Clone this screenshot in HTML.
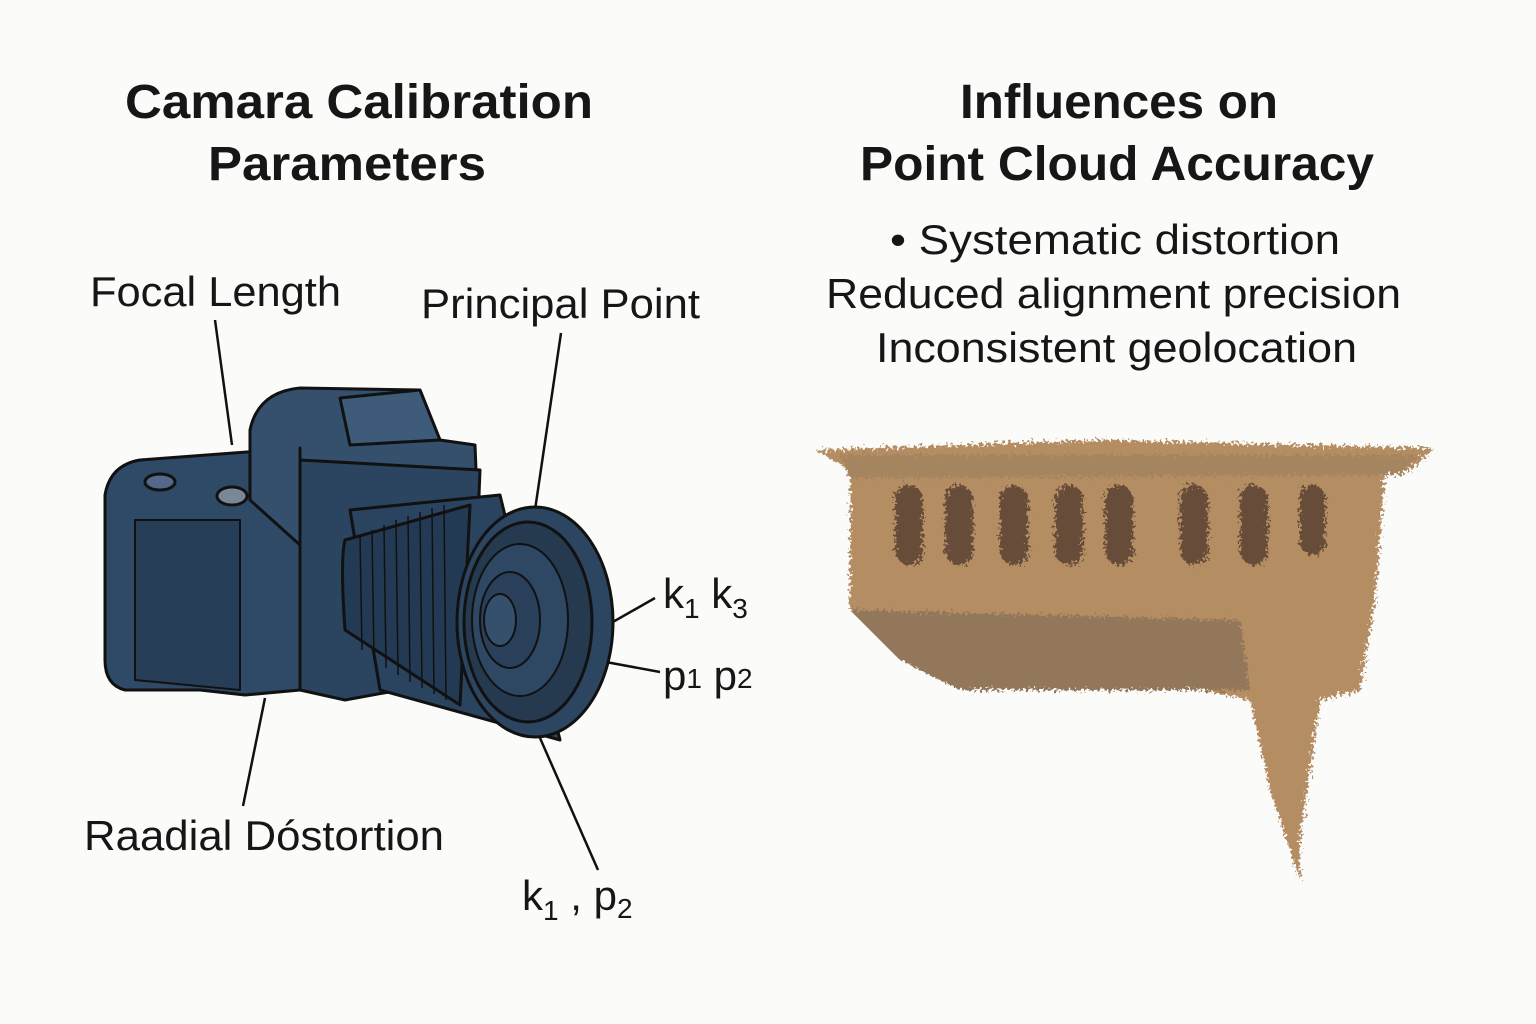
<!DOCTYPE html>
<html><head><meta charset="utf-8"><style>
body{margin:0;width:1536px;height:1024px;background:#fbfbfa;overflow:hidden;font-family:"Liberation Sans",sans-serif;}
svg{position:absolute;left:0;top:0}
</style></head><body>
<svg width="1536" height="1024" viewBox="0 0 1536 1024">
<defs>
<filter id="rough"><feTurbulence type="fractalNoise" baseFrequency="0.35" numOctaves="2" result="n"/><feDisplacementMap in="SourceGraphic" in2="n" scale="14"/></filter>
</defs>
<g font-family="Liberation Sans, sans-serif" fill="#161616" lengthAdjust="spacingAndGlyphs">
<text x="125" y="118" font-size="48" font-weight="bold" textLength="468" lengthAdjust="spacingAndGlyphs">Camara Calibration</text>
<text x="208" y="180" font-size="48" font-weight="bold" textLength="278" lengthAdjust="spacingAndGlyphs">Parameters</text>
<text x="960" y="118" font-size="48" font-weight="bold" textLength="318" lengthAdjust="spacingAndGlyphs">Influences on</text>
<text x="860" y="180" font-size="48" font-weight="bold" textLength="514" lengthAdjust="spacingAndGlyphs">Point Cloud Accuracy</text>
<text x="890" y="254" font-size="42" textLength="450" lengthAdjust="spacingAndGlyphs">• Systematic distortion</text>
<text x="826" y="308" font-size="42" textLength="575" lengthAdjust="spacingAndGlyphs">Reduced alignment precision</text>
<text x="876" y="362" font-size="42" textLength="481" lengthAdjust="spacingAndGlyphs">Inconsistent geolocation</text>
<text x="90" y="306" font-size="42" textLength="251" lengthAdjust="spacingAndGlyphs">Focal Length</text>
<text x="421" y="318" font-size="42" textLength="279" lengthAdjust="spacingAndGlyphs">Principal Point</text>
<text x="84" y="850" font-size="42" textLength="360" lengthAdjust="spacingAndGlyphs">Raadial Dóstortion</text>
<text x="663" y="608" font-size="42">k<tspan font-size="28" dy="10">1</tspan><tspan dy="-10"> k</tspan><tspan font-size="28" dy="10">3</tspan></text>
<text x="663" y="690" font-size="42">p<tspan font-size="28" dy="-2">1</tspan><tspan dy="2"> p</tspan><tspan font-size="28" dy="-2">2</tspan></text>
<text x="522" y="910" font-size="42">k<tspan font-size="28" dy="10">1</tspan><tspan dy="-10"> , p</tspan><tspan font-size="28" dy="8">2</tspan></text>
</g>
<g stroke="#111" stroke-width="2.5" fill="none">
<line x1="215" y1="320" x2="232" y2="445"/>
<line x1="561" y1="333" x2="535" y2="510"/>
<line x1="265" y1="698" x2="243" y2="806"/>
<line x1="540" y1="738" x2="598" y2="870"/>
<line x1="590" y1="635" x2="655" y2="598"/>
<line x1="595" y1="660" x2="660" y2="672"/>
</g>
<g stroke="#111" stroke-width="3" stroke-linejoin="round">
<path d="M105 495 Q110 465 140 460 L300 448 L300 690 L245 695 L200 690 L125 690 Q105 685 105 660 Z" fill="#2f4a66"/>
<path d="M135 520 L135 680 L240 690 L240 520 Z" fill="#263e57" stroke-width="2"/>
<path d="M250 430 Q258 392 300 388 L420 390 L440 440 L475 445 L478 520 L300 545 L250 500 Z" fill="#34506d"/>
<path d="M340 398 L420 390 L440 440 L350 445 Z" fill="#3e5b7a"/>
<path d="M300 448 L300 690 L345 700 L400 690 L420 540 L478 520 L480 470 L300 460 Z" fill="#2b4560"/>
<ellipse cx="160" cy="482" rx="15" ry="8" fill="#52698a"/>
<ellipse cx="232" cy="496" rx="15" ry="9" fill="#7b8796"/>
<path d="M350 510 L500 495 L560 740 L380 690 Z" fill="#2a435e"/>
<path d="M345 540 Q340 560 345 630 L460 705 L470 505 Z" fill="#223a53"/>
<g stroke-width="1.5">
<line x1="360" y1="535" x2="362" y2="650"/><line x1="372" y1="530" x2="374" y2="660"/><line x1="384" y1="525" x2="386" y2="668"/><line x1="396" y1="520" x2="398" y2="675"/><line x1="408" y1="516" x2="410" y2="682"/><line x1="420" y1="512" x2="422" y2="688"/><line x1="432" y1="508" x2="434" y2="694"/><line x1="444" y1="505" x2="446" y2="700"/>
</g>
<ellipse cx="535" cy="622" rx="78" ry="115" fill="#2c4560"/>
<ellipse cx="528" cy="622" rx="64" ry="100" fill="#25394f"/>
<ellipse cx="520" cy="620" rx="48" ry="76" fill="#2e4864" stroke-width="2"/>
<ellipse cx="510" cy="620" rx="30" ry="48" fill="#2a405a" stroke-width="2"/>
<ellipse cx="500" cy="620" rx="16" ry="26" fill="#34506d" stroke-width="2"/>
</g>
<g filter="url(#rough)">
<path d="M815 450 L1100 440 L1435 448 L1410 470 L1385 475 L1375 600 L1360 690 L1320 700 L1300 840 L1300 880 L1270 790 L1250 700 L1200 690 L960 690 L900 660 L850 610 L850 470 Z" fill="#b48d62"/>
<path d="M850 610 L1240 620 L1250 690 L1190 690 L960 690 L900 660 Z" fill="#93775a"/>
<path d="M840 455 L1420 455 L1400 475 L850 478 Z" fill="#a58460"/>
</g>
<g fill="#5a4330" opacity="0.85" filter="url(#rough)">
<rect x="895" y="485" width="28" height="80" rx="14"/>
<rect x="945" y="485" width="28" height="80" rx="14"/>
<rect x="1000" y="485" width="28" height="80" rx="14"/>
<rect x="1055" y="485" width="28" height="80" rx="14"/>
<rect x="1105" y="485" width="28" height="80" rx="14"/>
<rect x="1180" y="485" width="28" height="80" rx="14"/>
<rect x="1240" y="485" width="28" height="80" rx="14"/>
<rect x="1300" y="485" width="25" height="70" rx="12"/>
</g>
</svg>
</body></html>
